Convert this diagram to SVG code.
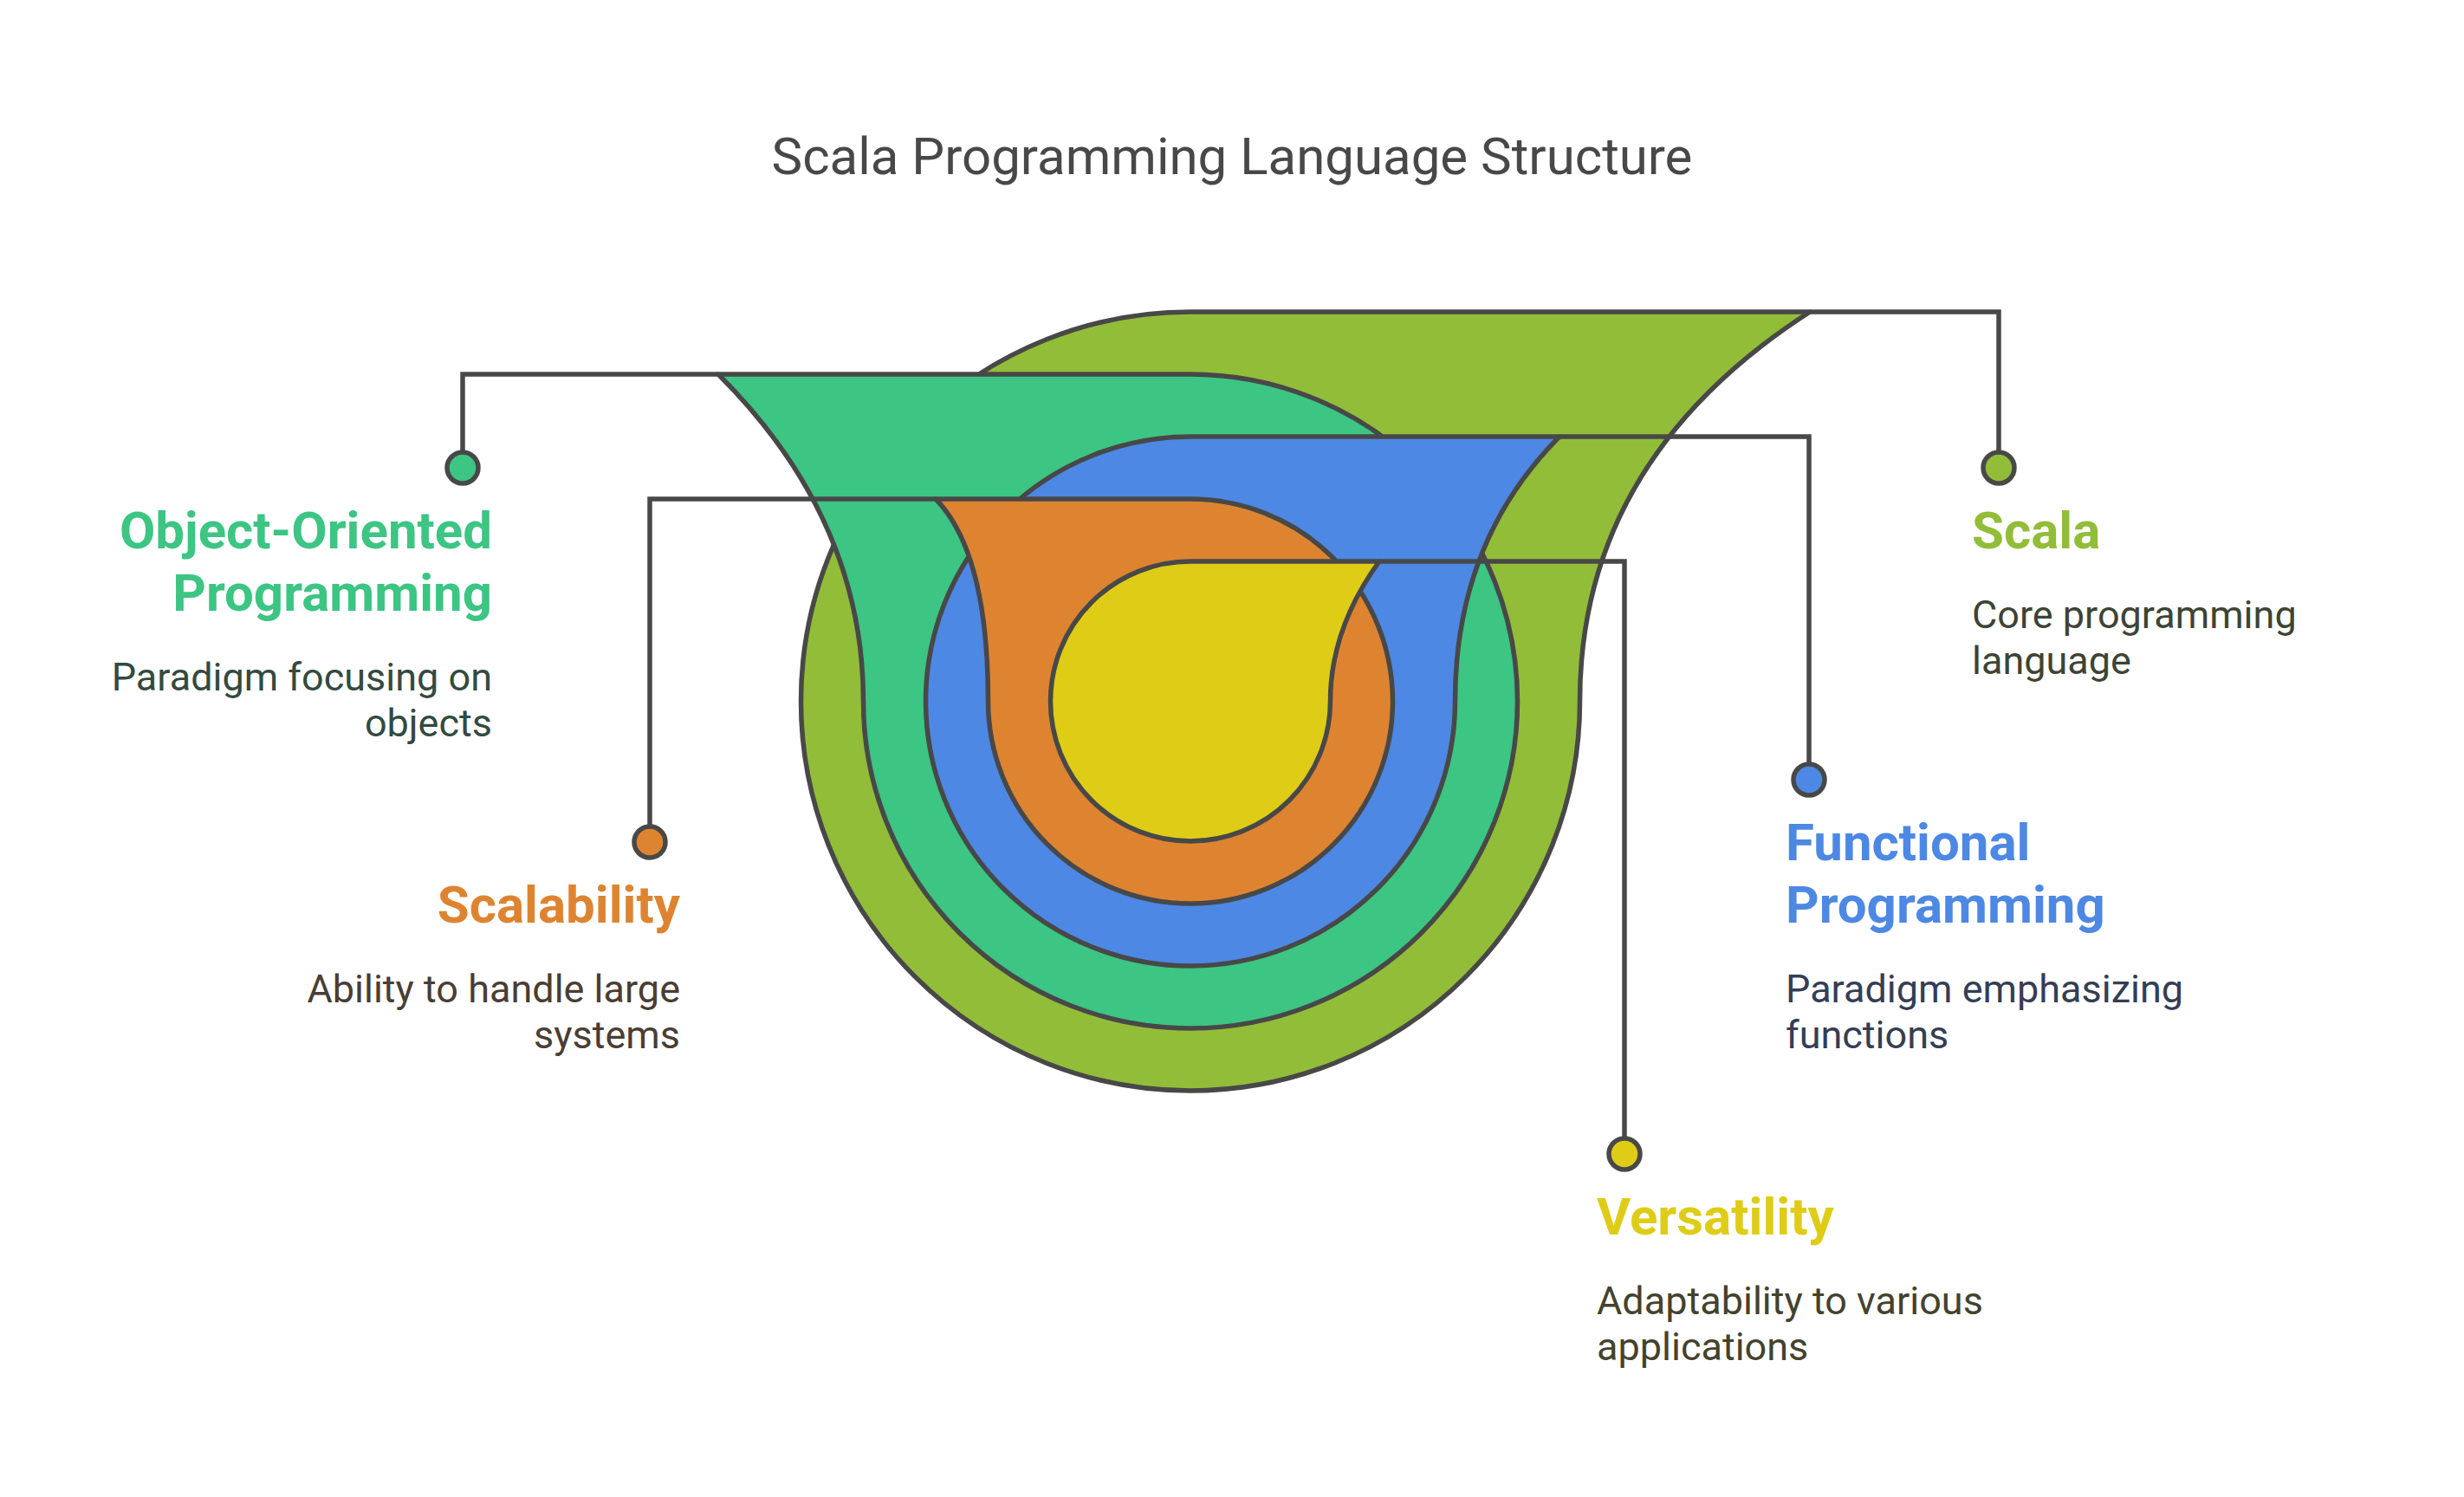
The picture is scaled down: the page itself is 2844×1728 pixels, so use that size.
<svg xmlns="http://www.w3.org/2000/svg" width="2844" height="1728" viewBox="0 0 2844 1728">
<style>
.shape{stroke:#484848;stroke-width:5.5;stroke-linejoin:round}
.dot{stroke:#484848;stroke-width:5.5}
.conn{fill:none;stroke:#484848;stroke-width:5.5;stroke-linejoin:miter}
.title{font-family:Roboto,"Liberation Sans",sans-serif;font-size:60px;fill:#484848}
.lbl{font-family:Roboto,"Liberation Sans",sans-serif;font-size:60px;font-weight:bold}
.desc{font-family:Roboto,"Liberation Sans",sans-serif;font-size:45px}
.end{text-anchor:end}
</style>
<rect width="2844" height="1728" fill="#ffffff"/>
<text class="title" x="1422" y="201" text-anchor="middle">Scala Programming Language Structure</text>

<g id="scala">
<path class="shape" fill="#92BD39" d="M2089,360 L1374,360 A449.5,449.5 0 1 0 1823.5,809.5 Q1823.5,531 2089,360 Z"/>
</g>
<g id="object-oriented">
<path class="shape" fill="#3CC583" d="M829,432 L1374,432 A377.5,377.5 0 1 1 996.5,809.5 Q996.5,599 829,432 Z"/>
</g>
<g id="functional">
<path class="shape" fill="#4D88E4" d="M1800,504 L1374,504 A305.5,305.5 0 1 0 1679.5,809.5 Q1679.5,625 1800,504 Z"/>
</g>
<g id="scalability">
<path class="shape" fill="#DE8431" d="M1080,576 L1374,576 A233.5,233.5 0 1 1 1140.5,809.5 Q1140.5,638 1080,576 Z"/>
</g>
<g id="versatility">
<path class="shape" fill="#DFCC16" d="M1592,648 L1374,648 A161.5,161.5 0 1 0 1535.5,809.5 Q1535.5,726 1592,648 Z"/>
</g>

<g id="connectors">
<path class="conn" d="M2089,360 H2307 V522"/>
<path class="conn" d="M829,432 H534 V522"/>
<path class="conn" d="M1800,504 H2088 V882"/>
<path class="conn" d="M1080,576 H750 V954"/>
<path class="conn" d="M1592,648 H1875 V1314"/>
</g>

<g id="scala-label">
<circle class="dot" cx="2307" cy="540" r="18" fill="#92BD39"/>
<text class="lbl" x="2276" y="633" fill="#92BD39">Scala</text>
<text class="desc" x="2276" y="725" fill="#3D4434">Core programming</text>
<text class="desc" x="2276" y="778" fill="#3D4434">language</text>
</g>
<g id="object-oriented-label">
<circle class="dot" cx="534" cy="540" r="18" fill="#3CC583"/>
<text class="lbl end" x="568" y="633" fill="#3CC583">Object-Oriented</text>
<text class="lbl end" x="568" y="705" fill="#3CC583">Programming</text>
<text class="desc end" x="568" y="797" fill="#334A40">Paradigm focusing on</text>
<text class="desc end" x="568" y="850" fill="#334A40">objects</text>
</g>
<g id="functional-label">
<circle class="dot" cx="2088" cy="900" r="18" fill="#4D88E4"/>
<text class="lbl" x="2061" y="993" fill="#4D88E4">Functional</text>
<text class="lbl" x="2061" y="1065" fill="#4D88E4">Programming</text>
<text class="desc" x="2061" y="1157" fill="#343E54">Paradigm emphasizing</text>
<text class="desc" x="2061" y="1210" fill="#343E54">functions</text>
</g>
<g id="scalability-label">
<circle class="dot" cx="750" cy="972" r="18" fill="#DE8431"/>
<text class="lbl end" x="785" y="1065" fill="#DE8431">Scalability</text>
<text class="desc end" x="785" y="1157" fill="#4A3D33">Ability to handle large</text>
<text class="desc end" x="785" y="1210" fill="#4A3D33">systems</text>
</g>
<g id="versatility-label">
<circle class="dot" cx="1875" cy="1332" r="18" fill="#DFCC16"/>
<text class="lbl" x="1843" y="1425" fill="#DFCC16">Versatility</text>
<text class="desc" x="1843" y="1517" fill="#44422E">Adaptability to various</text>
<text class="desc" x="1843" y="1570" fill="#44422E">applications</text>
</g>
</svg>
